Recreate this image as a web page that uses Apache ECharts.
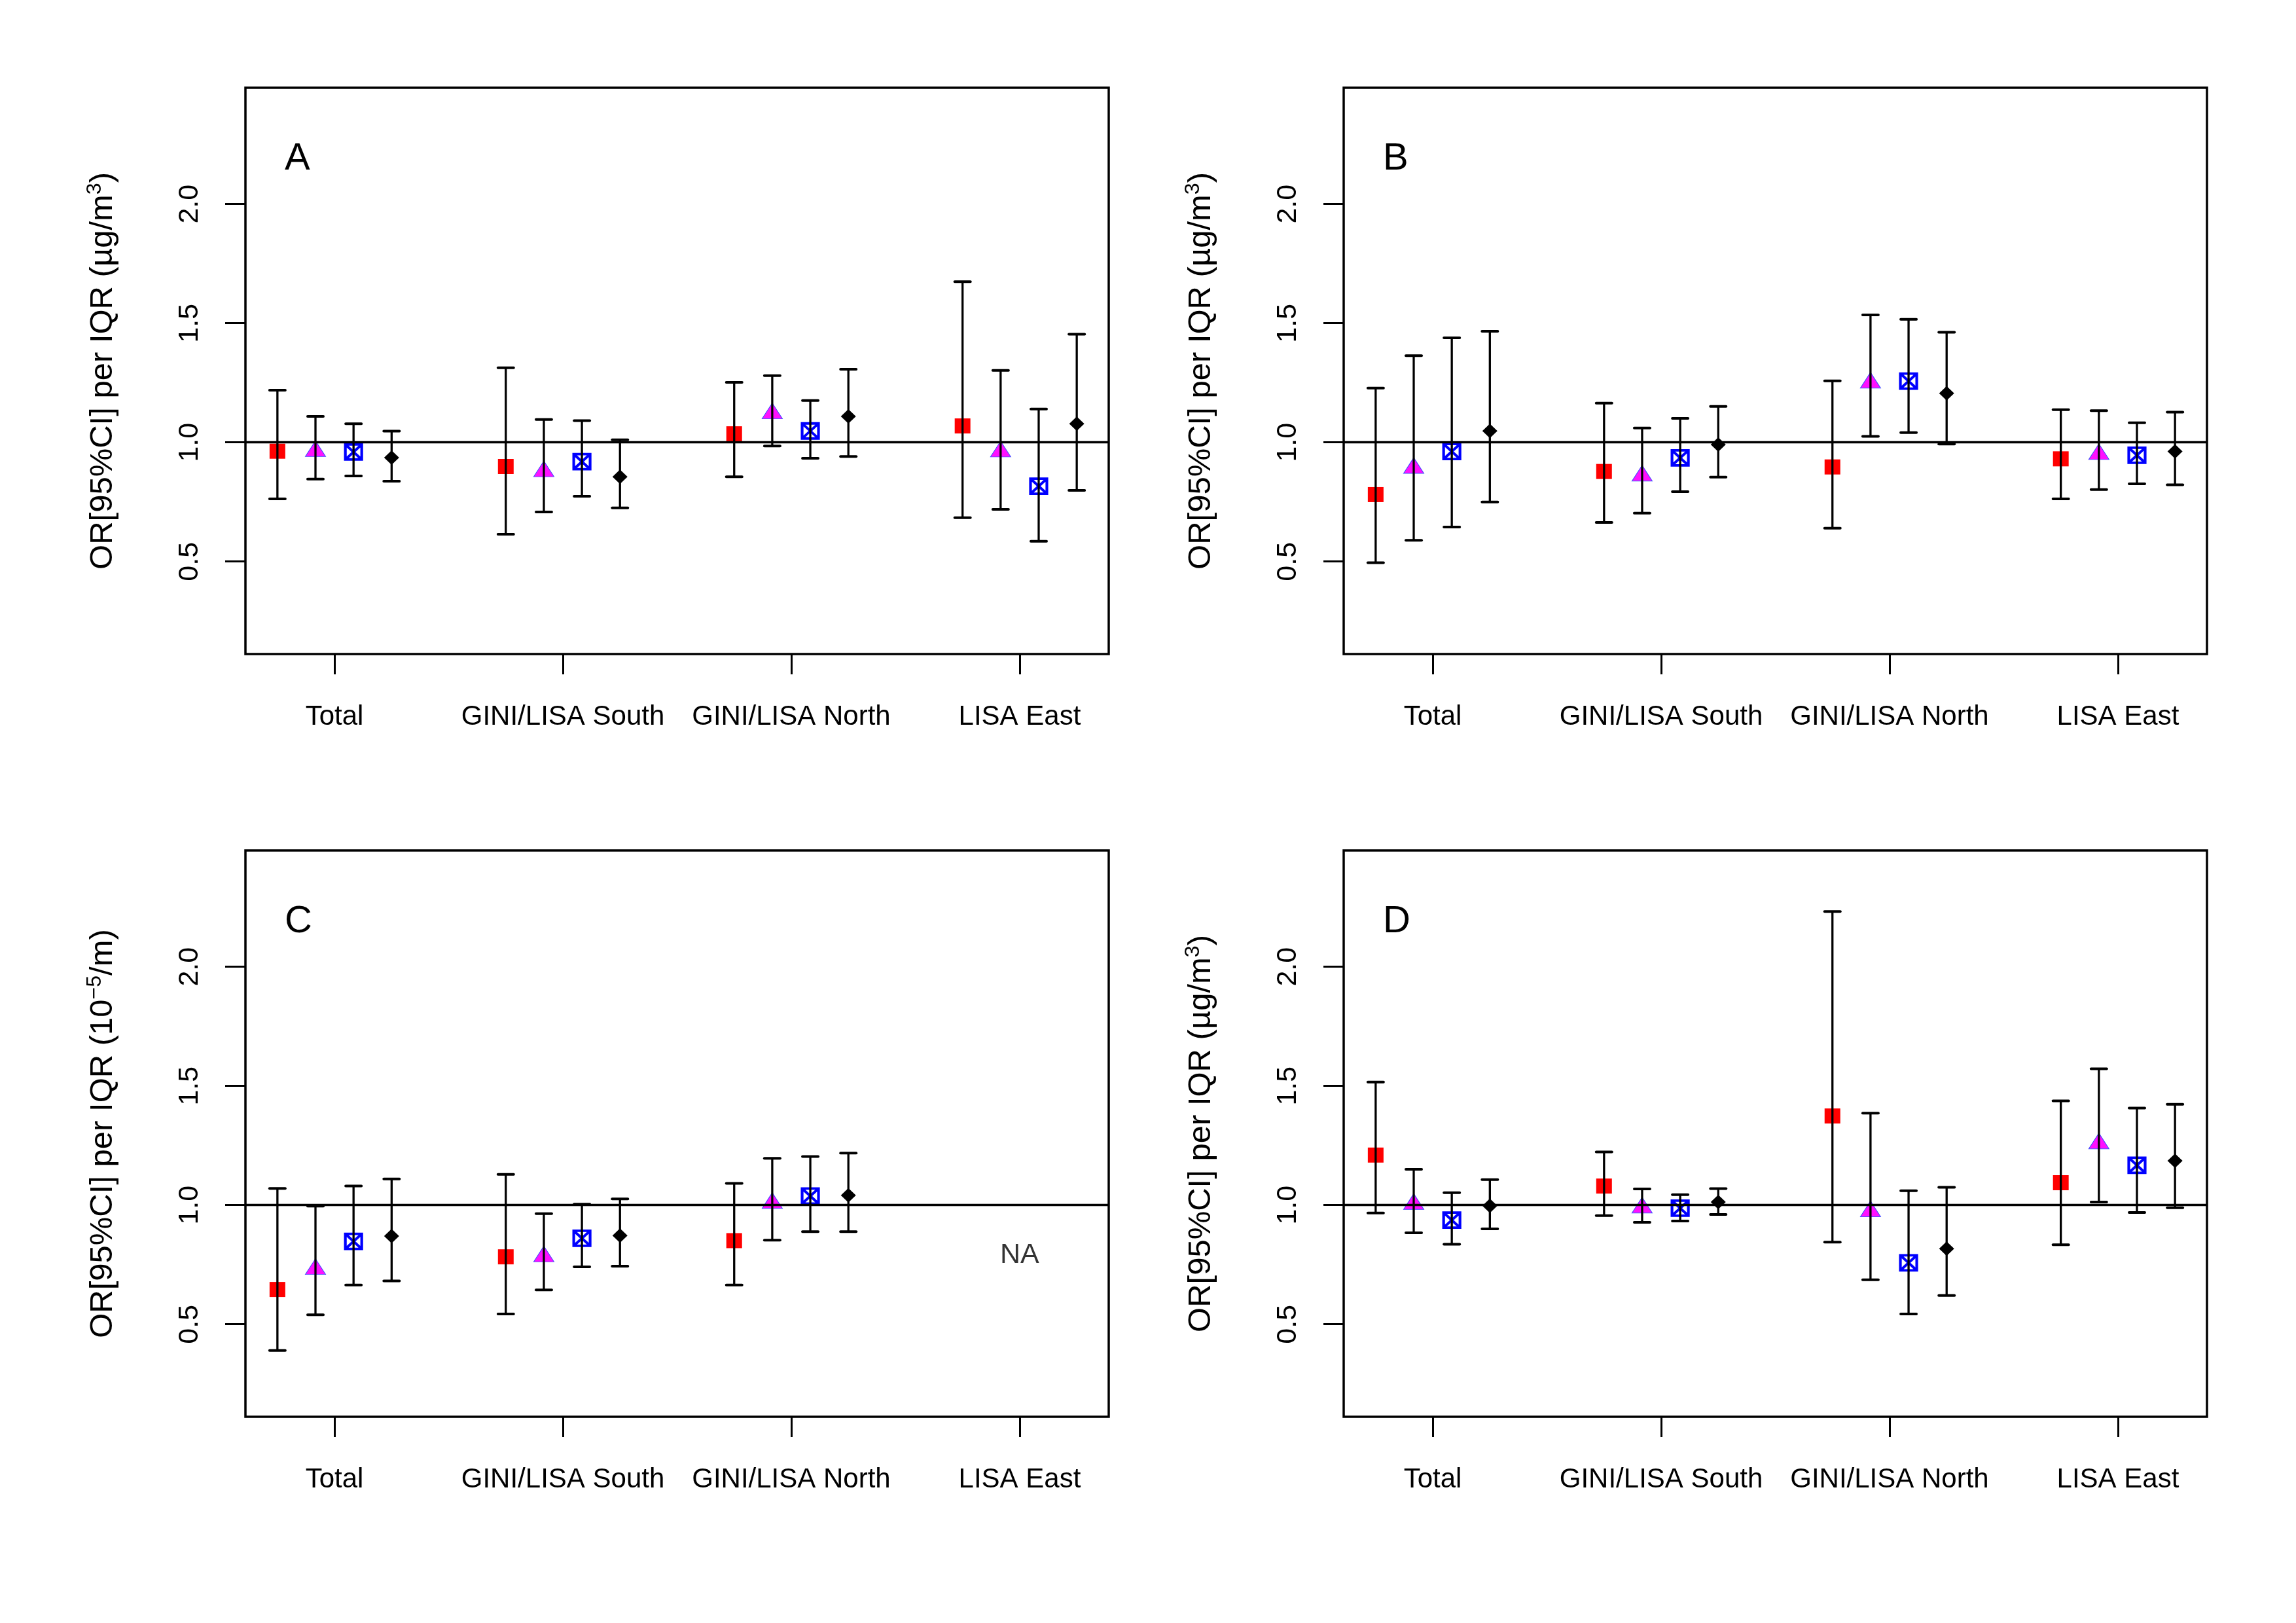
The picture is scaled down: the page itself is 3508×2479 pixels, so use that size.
<!DOCTYPE html>
<html>
<head>
<meta charset="utf-8">
<script src="https://cdn.jsdelivr.net/npm/echarts@6/dist/echarts.min.js"></script>
<style>
html,body{margin:0;padding:0;background:#fff;}
#chart{width:3508px;height:2479px;}
</style>
</head>
<body>
<div id="chart"></div>
<script>
// ---------------- DATA ----------------
const categories = ['Total', 'GINI/LISA South', 'GINI/LISA North', 'LISA East'];
const panelLetters = ['A', 'B', 'C', 'D'];
const yTickValues = [0.5, 1.0, 1.5, 2.0];
const yTitleUnits = ['µg/m', 'µg/m', '10', 'µg/m'];
const yTitleSup = ['3', '3', '−5', '3'];
const yTitleTail = [')', ')', '/m)', ')'];
// estimates per panel: [series][category]  (series: square, triangle, crossed box, diamond)
const estA = [[0.963, 0.899, 1.036, 1.069], [0.963, 0.878, 1.121, 0.961], [0.960, 0.919, 1.048, 0.816], [0.936, 0.856, 1.109, 1.078]];
const loA  = [[0.763, 0.615, 0.856, 0.684], [0.846, 0.708, 0.985, 0.719], [0.859, 0.774, 0.933, 0.585], [0.837, 0.725, 0.941, 0.799]];
const hiA  = [[1.219, 1.313, 1.252, 1.674], [1.109, 1.096, 1.280, 1.302], [1.078, 1.091, 1.176, 1.140], [1.047, 1.011, 1.307, 1.454]];
const estB = [[0.781, 0.878, 0.897, 0.931], [0.892, 0.860, 1.250, 0.950], [0.962, 0.935, 1.257, 0.946], [1.048, 0.991, 1.206, 0.962]];
const loB  = [[0.495, 0.664, 0.640, 0.763], [0.589, 0.703, 1.025, 0.802], [0.645, 0.793, 1.041, 0.826], [0.750, 0.854, 0.993, 0.822]];
const hiB  = [[1.228, 1.165, 1.258, 1.137], [1.364, 1.060, 1.535, 1.133], [1.439, 1.101, 1.516, 1.082], [1.466, 1.151, 1.462, 1.127]];
const estC = [[0.646, 0.783, 0.851, null], [0.731, 0.784, 1.008, null], [0.848, 0.861, 1.038, null], [0.870, 0.872, 1.041, null]];
const loC  = [[0.390, 0.543, 0.665, null], [0.540, 0.644, 0.853, null], [0.665, 0.741, 0.889, null], [0.682, 0.744, 0.889, null]];
const hiC  = [[1.070, 1.129, 1.091, null], [0.996, 0.964, 1.196, null], [1.080, 1.004, 1.204, null], [1.110, 1.026, 1.218, null]];
const estD = [[1.210, 1.080, 1.374, 1.094], [1.004, 0.989, 0.973, 1.258], [0.937, 0.987, 0.758, 1.167], [0.997, 1.013, 0.817, 1.186]];
const loD  = [[0.967, 0.956, 0.845, 0.834], [0.884, 0.928, 0.687, 1.013], [0.836, 0.933, 0.543, 0.969], [0.900, 0.961, 0.621, 0.989]];
const hiD  = [[1.516, 1.223, 2.232, 1.437], [1.150, 1.068, 1.386, 1.572], [1.052, 1.044, 1.060, 1.407], [1.107, 1.069, 1.075, 1.423]];
const naLabel = {panel: 2, category: 3, value: 0.80, text: 'NA'};
const refValue = 1.0;

// ---------------- LAYOUT / STYLE ----------------
const FONT = 'Liberation Sans';
const panelEst = [estA, estB, estC, estD];
const panelLo = [loA, loB, loC, loD];
const panelHi = [hiA, hiB, hiC, hiD];
const gridsPos = [
  {left: 375, top: 134}, {left: 2053, top: 134},
  {left: 375, top: 1299}, {left: 2053, top: 1299}
];
const GW = 1319, GH = 865;
const offsets = [-0.25, -1 / 12, 1 / 12, 0.25];
const markerStyles = [
  {symbol: 'rect', symbolSize: [24, 23], symbolOffset: [0, 0], itemStyle: {color: '#ff0000'}},
  {symbol: 'path://M0,-1 L0.866,0.5 L-0.866,0.5 Z', symbolSize: [31, 24], symbolOffset: [0, -4],
    itemStyle: {color: '#ff10ff', borderColor: '#4050ff', borderWidth: 1}},
  {symbol: 'path://M0,0 L1,0 L1,1 L0,1 Z M0,0 L1,1 M1,0 L0,1', symbolSize: [25, 23], symbolOffset: [0, 0],
    itemStyle: {color: 'rgba(0,0,0,0)', borderColor: '#0000ff', borderWidth: 4}},
  {symbol: 'diamond', symbolSize: [23, 22], symbolOffset: [0, 0], itemStyle: {color: '#000000'}}
];

const grid = [], xAxis = [], yAxis = [], series = [], graphic = [];

gridsPos.forEach((g, p) => {
  grid.push({left: g.left, top: g.top, width: GW, height: GH, show: true,
    borderColor: '#000', borderWidth: 3.5, backgroundColor: 'transparent', containLabel: false});
  xAxis.push({
    type: 'value', gridIndex: p, min: 0.61, max: 4.39,
    axisLine: {show: false}, splitLine: {show: false},
    axisTick: {show: true, customValues: [1, 2, 3, 4], length: 31, lineStyle: {color: '#000', width: 3}},
    axisLabel: {show: true, customValues: [1, 2, 3, 4], formatter: v => categories[Math.round(v) - 1],
      margin: 75, fontSize: 42, color: '#000', fontFamily: FONT}
  });
  yAxis.push({
    type: 'value', gridIndex: p, min: 0.112, max: 2.488,
    axisLine: {show: false}, splitLine: {show: false},
    axisTick: {show: true, customValues: yTickValues, length: 31, lineStyle: {color: '#000', width: 3}},
    axisLabel: {show: true, customValues: yTickValues, formatter: v => Number(v).toFixed(1), rotate: 90,
      margin: 63, fontSize: 43, color: '#000', fontFamily: FONT},
    name: '{n|OR[95%CI] per IQR (' + yTitleUnits[p] + '}{s|' + yTitleSup[p] + '}{n|' + yTitleTail[p] + '}',
    nameLocation: 'middle', nameRotate: 90, nameGap: 190,
    nameTextStyle: {
      color: '#000', fontFamily: FONT,
      rich: {
        n: {fontSize: 49, lineHeight: 56, fontFamily: FONT, color: '#000', verticalAlign: 'middle'},
        s: {fontSize: 32, lineHeight: 34, fontFamily: FONT, color: '#000', verticalAlign: 'top'}
      }
    }
  });

  const est = panelEst[p], lo = panelLo[p], hi = panelHi[p];
  for (let s = 0; s < 4; s++) {
    const pts = [], bars = [];
    for (let c = 0; c < categories.length; c++) {
      if (est[s][c] == null) continue;
      const x = c + 1 + offsets[s];
      pts.push([x, est[s][c]]);
      bars.push([x, lo[s][c], hi[s][c]]);
    }
    const ms = markerStyles[s];
    series.push({
      type: 'scatter', xAxisIndex: p, yAxisIndex: p, data: pts, z: 2,
      symbol: ms.symbol, symbolSize: ms.symbolSize, symbolOffset: ms.symbolOffset,
      itemStyle: Object.assign({opacity: 1}, ms.itemStyle), silent: true, animation: false
    });
    series.push({
      type: 'custom', xAxisIndex: p, yAxisIndex: p, data: bars, z: 3, silent: true, animation: false,
      encode: {x: 0, y: [1, 2]},
      renderItem: function (params, api) {
        const x = api.value(0);
        const a = api.coord([x, api.value(1)]);
        const b = api.coord([x, api.value(2)]);
        const hw = 12;
        return {
          type: 'group', children: [
            {type: 'line', shape: {x1: a[0], y1: a[1], x2: b[0], y2: b[1]}, style: {stroke: '#000', lineWidth: 3.3}},
            {type: 'line', shape: {x1: a[0] - hw, y1: a[1], x2: a[0] + hw, y2: a[1]}, style: {stroke: '#000', lineWidth: 4, lineCap: 'round'}},
            {type: 'line', shape: {x1: b[0] - hw, y1: b[1], x2: b[0] + hw, y2: b[1]}, style: {stroke: '#000', lineWidth: 4, lineCap: 'round'}}
          ]
        };
      }
    });
  }
  // reference line at OR = 1
  series.push({
    type: 'line', xAxisIndex: p, yAxisIndex: p, data: [], z: 4, silent: true, animation: false,
    markLine: {silent: true, symbol: ['none', 'none'], animation: false,
      label: {show: false}, lineStyle: {color: '#000', width: 3.4, type: 'solid'},
      data: [{yAxis: refValue}]}
  });
  if (naLabel.panel === p) {
    series.push({
      type: 'scatter', xAxisIndex: p, yAxisIndex: p, symbolSize: 0, silent: true, animation: false,
      data: [[naLabel.category + 1, naLabel.value]],
      label: {show: true, position: 'inside', formatter: naLabel.text, fontSize: 43, color: '#000',
        fontFamily: FONT, textBorderWidth: 0, offset: [0, 4]}
    });
  }
  graphic.push({
    type: 'text', left: g.left + 60, top: g.top + 80,
    style: {text: panelLetters[p], fontSize: 58, fill: '#000', fontFamily: FONT}
  });
});

const chart = echarts.init(document.getElementById('chart'), null, {renderer: 'canvas', width: 3508, height: 2479});
chart.setOption({
  backgroundColor: '#ffffff',
  animation: false,
  grid, xAxis, yAxis, series, graphic
});
</script>
</body>
</html>
